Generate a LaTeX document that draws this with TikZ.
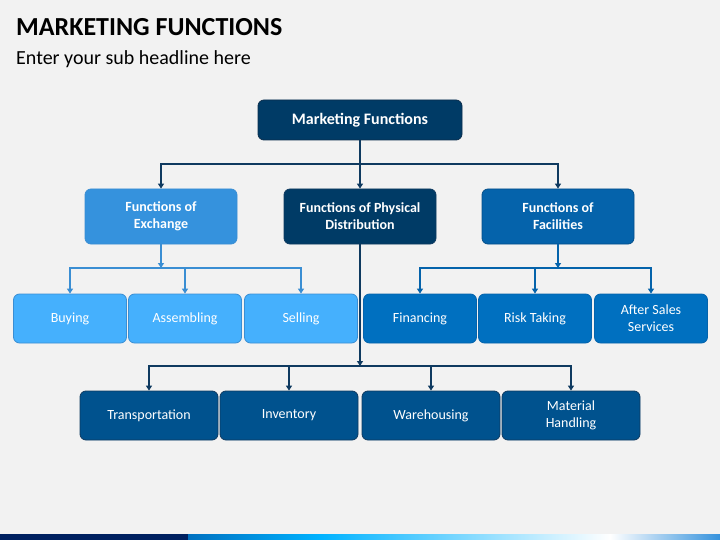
\documentclass[tikz,border=0pt]{standalone}
\usepackage{fontspec}
\setmainfont{Carlito}
\usetikzlibrary{positioning}
\usetikzlibrary{arrows.meta}

\definecolor{pagegray}{HTML}{F2F2F2}
\definecolor{navy}{HTML}{003B66}
\definecolor{navyline}{HTML}{0F3A60}
\definecolor{exchblue}{HTML}{3592DD}
\definecolor{exchline}{HTML}{3A8ED3}
\definecolor{facblue}{HTML}{0563AB}
\definecolor{skyblue}{HTML}{45B0FD}
\definecolor{midblue}{HTML}{0070C0}
\definecolor{physblue}{HTML}{00528E}
\definecolor{bardark}{HTML}{002060}

\tikzset{
  box/.style={rectangle, rounded corners=6pt, draw, line width=0.8pt,
              text=white, align=center, inner sep=2pt},
  topbox/.style={box, minimum width=152pt, minimum height=55pt,
                 font=\fontsize{14}{17}\selectfont\bfseries},
  leafbox/.style={box, minimum width=113pt, minimum height=49pt,
                  font=\fontsize{14}{17}\selectfont},
  lowbox/.style={box, minimum width=138pt, minimum height=49pt,
                 font=\fontsize{14}{17}\selectfont},
  link/.style={line width=1.5pt, -{Triangle[width=6pt,length=5pt]}},
}

\begin{document}
\begin{tikzpicture}[x=1pt, y=-1pt]
  % page and footer band
  \fill[pagegray] (0,0) rectangle (720,540);
  \useasboundingbox (0,0) rectangle (720,540);
  \fill[bardark] (0,534) rectangle (188,540);
  \shade[left color=midblue, right color=cyan!70!blue] (188,534) rectangle (320,540);
  \shade[left color=cyan!70!blue, right color=white] (320,534) rectangle (610,540);
  \shade[left color=white, right color=exchblue] (610,534) rectangle (720,540);

  % headline
  \node[anchor=base west, inner sep=0pt, font=\fontsize{26}{30}\selectfont\bfseries]
     (title) at (16,36) {MARKETING FUNCTIONS};
  \node[anchor=base west, inner sep=0pt, font=\fontsize{20}{24}\selectfont]
     (subtitle) at (16,65) {Enter your sub headline here};

  % root
  \node[box, fill=navy, draw=navyline!80!black, minimum width=204pt, minimum height=40pt,
        font=\fontsize{16}{19}\selectfont\bfseries] (root) at (360,120) {Marketing Functions};

  % second level
  \node[topbox, fill=exchblue, draw=exchline] (exchange) at (161,216.5) {Functions of\\Exchange};
  \node[topbox, fill=navy, draw=navyline] (physical) at (360,216.5) {Functions of Physical\\Distribution};
  \node[topbox, fill=facblue, draw=facblue!80!black] (facilities) at (558,216.5) {Functions of\\Facilities};

  % exchange branch
  \node[leafbox, fill=skyblue, draw=exchline] (buying) at (70,318.5) {Buying};
  \node[leafbox, fill=skyblue, draw=exchline] (assembling) at (185,318.5) {Assembling};
  \node[leafbox, fill=skyblue, draw=exchline] (selling) at (301,318.5) {Selling};

  % facilities branch
  \node[leafbox, fill=midblue, draw=facblue] (financing) at (420,318.5) {Financing};
  \node[leafbox, fill=midblue, draw=facblue] (risk) at (535,318.5) {Risk Taking};
  \node[leafbox, fill=midblue, draw=facblue] (aftersales) at (651,318.5) {After Sales\\Services};

  % physical distribution branch
  \node[lowbox, fill=physblue, draw=navyline] (transport) at (149,415.5) {Transportation};
  \node[lowbox, fill=physblue, draw=navyline] (inventory) at (289,415.5) {Inventory};
  \node[lowbox, fill=physblue, draw=navyline] (warehouse) at (431,415.5) {Warehousing};
  \node[lowbox, fill=physblue, draw=navyline] (material) at (571,415.5) {Material\\Handling};

  % bus points
  \coordinate (rootbar) at (360,164);
  \coordinate (exchbar) at (161,268);
  \coordinate (facbar) at (558,268);
  \coordinate (physbar) at (360,366);

  % connectors
  \draw[line width=1.5pt, navyline] (root) -- (rootbar);
  \draw[link, navyline] (rootbar) -| (exchange);
  \draw[link, navyline] (rootbar) -- (physical);
  \draw[link, navyline] (rootbar) -| (facilities);

  \draw[link, exchline] (exchange) -- (exchbar);
  \draw[link, exchline] (exchbar) -| (buying);
  \draw[link, exchline] (exchbar) -| (assembling);
  \draw[link, exchline] (exchbar) -| (selling);

  \draw[link, facblue] (facilities) -- (facbar);
  \draw[link, facblue] (facbar) -| (financing);
  \draw[link, facblue] (facbar) -| (risk);
  \draw[link, facblue] (facbar) -| (aftersales);

  \draw[link, navyline] (physical) -- (physbar);
  \draw[link, navyline] (physbar) -| (transport);
  \draw[link, navyline] (physbar) -| (inventory);
  \draw[link, navyline] (physbar) -| (warehouse);
  \draw[link, navyline] (physbar) -| (material);
\end{tikzpicture}
\end{document}
